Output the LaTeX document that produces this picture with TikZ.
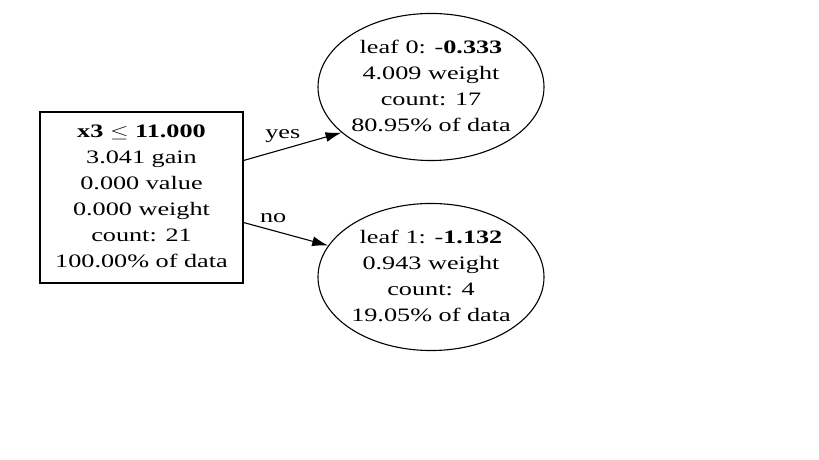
\documentclass[tikz,border=0pt]{standalone}
\usepackage{fontspec}
\setmainfont{Liberation Serif}
\usetikzlibrary{shapes.geometric,arrows.meta}
\newcommand\sxt[1]{\scalebox{1.38}[1]{\begin{tabular}{@{}c@{}}#1\end{tabular}}}
\begin{document}
\begin{tikzpicture}[x=1pt,y=1pt,
  txt/.style={align=center,font=\fontsize{19}{26}\selectfont},
  leaf/.style={txt,draw,line width=1.1pt,ellipse,minimum width=226pt,minimum height=144pt,inner sep=0pt},
  split/.style={txt,draw,line width=1.1pt,rectangle,minimum width=203pt,minimum height=171pt,inner sep=0pt},
  edge/.style={line width=1.1pt,-{Latex[length=16pt,width=10pt]}},
  lbl/.style={font=\fontsize{19}{22}\selectfont}]
\useasboundingbox (0,0) rectangle (819,460);
\node[split] (root) at (141.5,262.5) {\sxt{\textbf{x3} $\leq$ \textbf{11.000}\\3.041 gain\\0.000 value\\0.000 weight\\count: 21\\100.00\% of data}};
\node[leaf] (l0) at (431,373) {\sxt{leaf 0: -\textbf{0.333}\\4.009 weight\\count: 17\\80.95\% of data}};
\node[leaf] (l1) at (431,183) {\sxt{leaf 1: -\textbf{1.132}\\0.943 weight\\count: 4\\19.05\% of data}};
\draw[edge] ([yshift=37pt]root.east) -- node[lbl,above=3pt,pos=0.4] {\scalebox{1.38}[1]{yes}} (l0.207);
\draw[edge] ([yshift=-25pt]root.east) -- node[lbl,above=4pt,pos=0.35] {\scalebox{1.38}[1]{no}} (l1.163);
\end{tikzpicture}
\end{document}
